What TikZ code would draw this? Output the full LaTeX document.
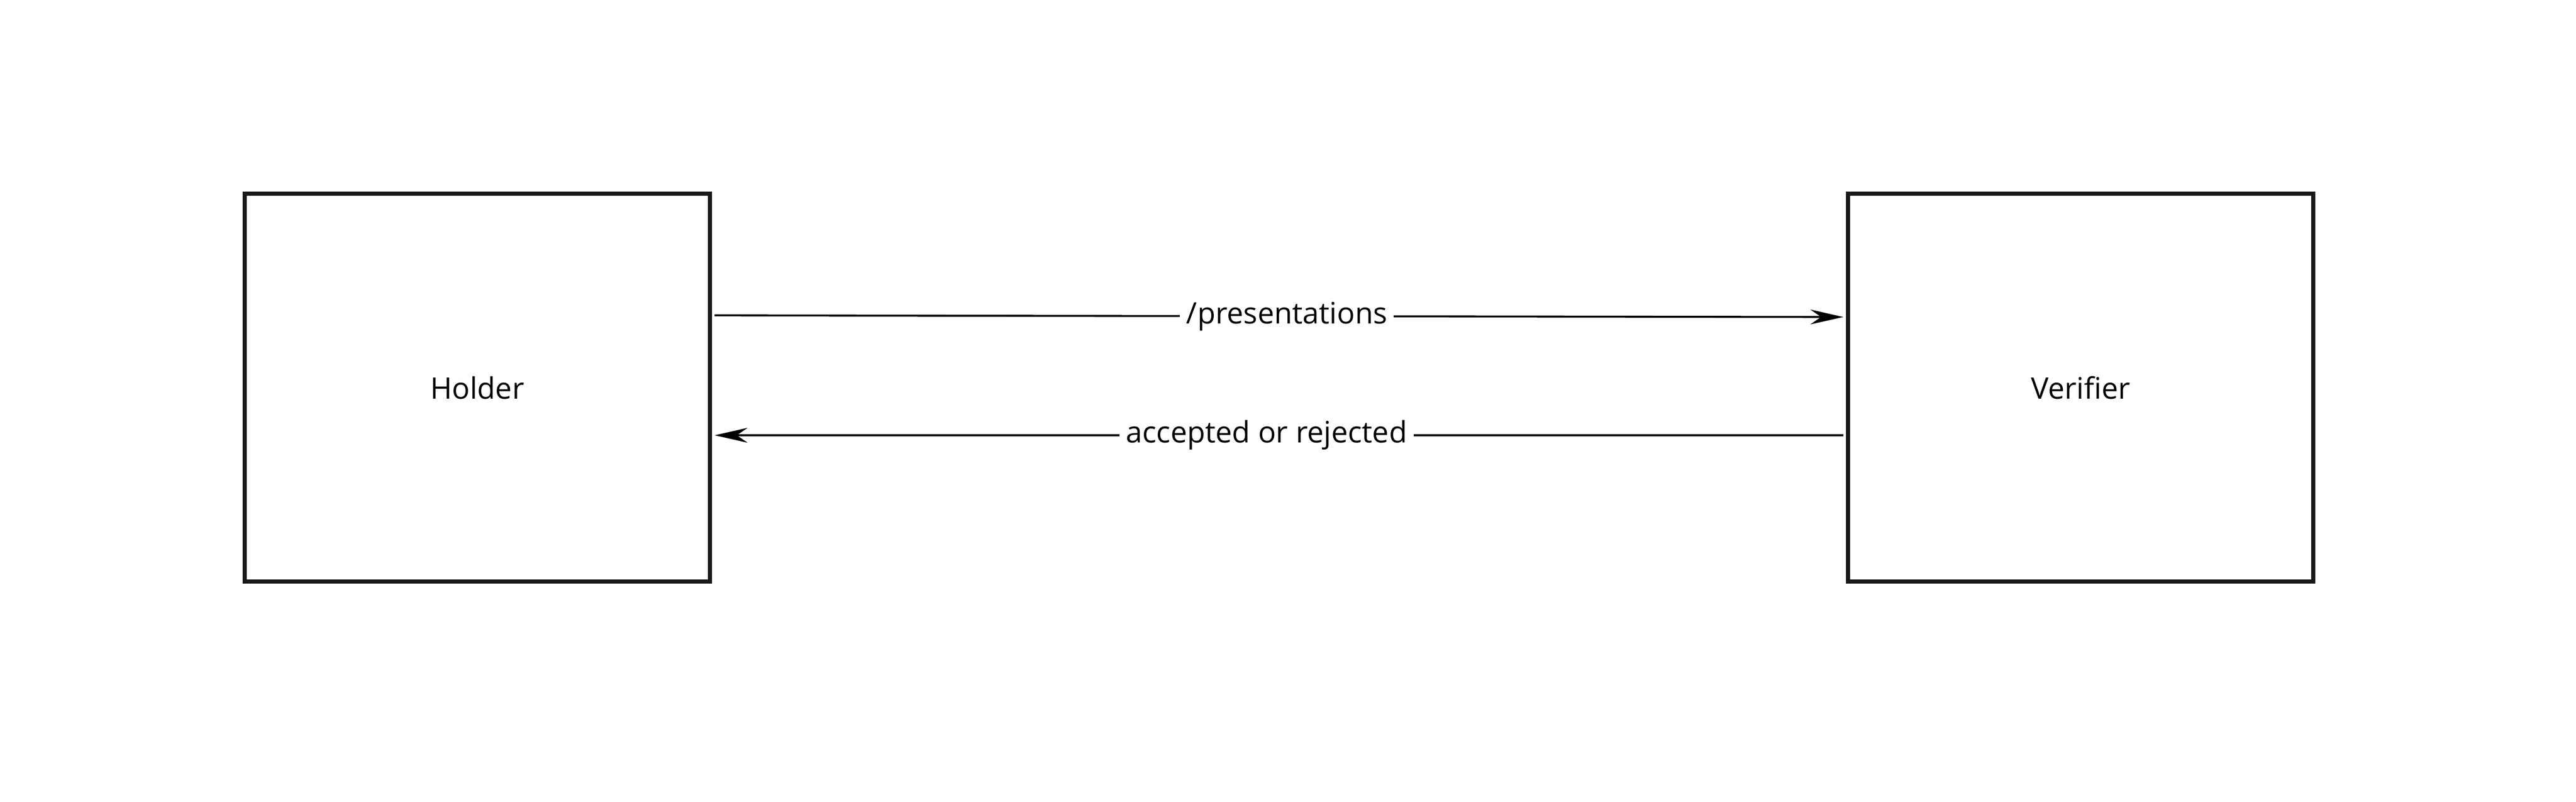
\documentclass[tikz,border=0pt]{standalone}
\usepackage{fontspec}
\setmainfont{Open Sans}
\usetikzlibrary{arrows.meta}
\begin{document}
\begin{tikzpicture}[x=1pt,y=-1pt,
  box/.style={draw=black!90,line width=2.5pt,minimum width=283pt,minimum height=236pt,inner sep=0pt,font=\fontsize{18}{22}\selectfont},
  conn/.style={line width=1.2pt,-{Stealth[length=20pt,width=9pt]}},
  lbl/.style={fill=white,inner sep=4pt,font=\fontsize{18}{22}\selectfont}]
\useasboundingbox (0,0) rectangle (1568,488);
\node[box] (h) at (290.5,236) {Holder};
\node[box] (v) at (1266.5,236) {Verifier};
\coordinate (a1) at (435,192);
\coordinate (a2) at (1122,193);
\coordinate (b1) at (1122,265);
\coordinate (b2) at (435,265);
\draw[conn] (a1) -- node[lbl,pos=0.507] {/presentations} (a2);
\draw[conn] (b1) -- node[lbl,pos=0.511] {accepted or rejected} (b2);
\end{tikzpicture}
\end{document}
